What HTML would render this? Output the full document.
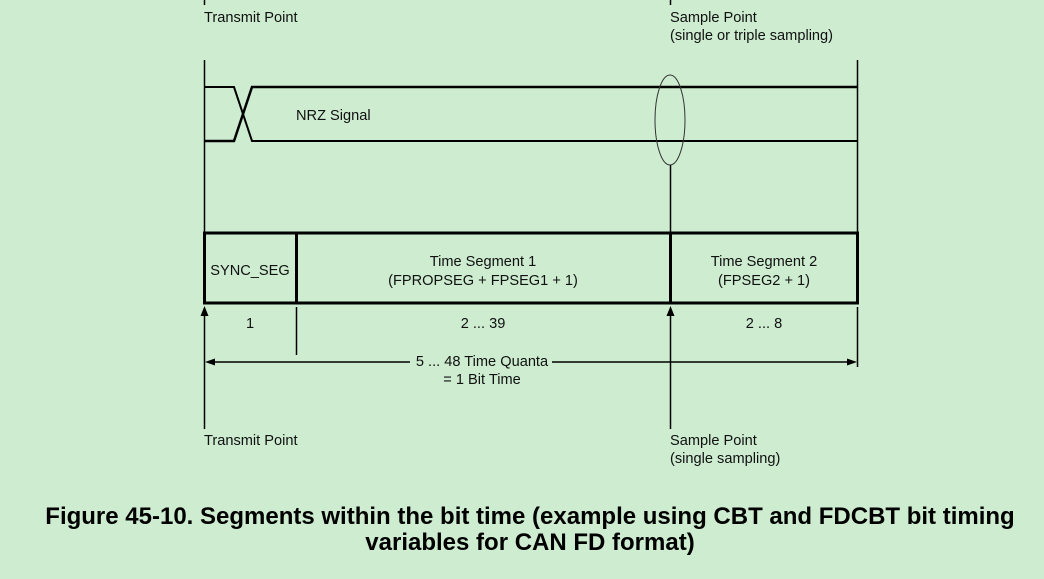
<!DOCTYPE html>
<html><head><meta charset="utf-8"><style>
html,body{margin:0;padding:0;background:#cdecd0;}
svg{display:block}
text{font-family:"Liberation Sans",sans-serif;font-size:14.6px;fill:#111}
.cap{font-weight:bold;font-size:24px;fill:#000}
</style></head><body>
<svg width="1044" height="579" viewBox="0 0 1044 579" xmlns="http://www.w3.org/2000/svg">
<rect width="1044" height="579" fill="#cdecd0"/>
<g stroke="#000" fill="none">
<line x1="204.5" y1="0" x2="204.5" y2="5" stroke-width="1.5"/>
<line x1="670.5" y1="0" x2="670.5" y2="5" stroke-width="1.5"/>
<line x1="204.5" y1="60" x2="204.5" y2="232" stroke-width="1.5"/>
<line x1="857.5" y1="60" x2="857.5" y2="232" stroke-width="1.5"/>
<polyline points="204,141 234,141 252,87 857,87" stroke-width="2.5"/>
<polyline points="204,87 234,87 252,141 857,141" stroke-width="2"/>
<ellipse cx="670" cy="120" rx="15" ry="45" stroke-width="1" stroke="#333"/>
<line x1="670.5" y1="165" x2="670.5" y2="232" stroke-width="1.5"/>
<rect x="204.5" y="233" width="653" height="70" stroke-width="3"/>
<line x1="296.5" y1="233" x2="296.5" y2="303" stroke-width="3"/>
<line x1="670.5" y1="233" x2="670.5" y2="303" stroke-width="3"/>
<line x1="204.5" y1="312" x2="204.5" y2="429" stroke-width="1.5"/>
<line x1="670.5" y1="312" x2="670.5" y2="429" stroke-width="1.5"/>
<line x1="296.5" y1="307" x2="296.5" y2="355" stroke-width="1.5"/>
<line x1="857.5" y1="307" x2="857.5" y2="367" stroke-width="1.5"/>
<line x1="212" y1="362" x2="410" y2="362" stroke-width="1.5"/>
<line x1="552" y1="362" x2="850" y2="362" stroke-width="1.5"/>
</g>
<g fill="#000">
<polygon points="204.5,306 200.5,316 208.5,316"/>
<polygon points="670.5,306 666.5,316 674.5,316"/>
<polygon points="205,362 215,358.5 215,365.5"/>
<polygon points="857,362 847,358.5 847,365.5"/>
</g>
<text x="204" y="22">Transmit Point</text>
<text x="670" y="22">Sample Point</text>
<text x="670" y="40">(single or triple sampling)</text>
<text x="296" y="120">NRZ Signal</text>
<text x="250" y="275" text-anchor="middle">SYNC_SEG</text>
<text x="483" y="266" text-anchor="middle">Time Segment 1</text>
<text x="483" y="285" text-anchor="middle">(FPROPSEG + FPSEG1 + 1)</text>
<text x="764" y="266" text-anchor="middle">Time Segment 2</text>
<text x="764" y="285" text-anchor="middle">(FPSEG2 + 1)</text>
<text x="250" y="328" text-anchor="middle">1</text>
<text x="483" y="328" text-anchor="middle">2 ... 39</text>
<text x="764" y="328" text-anchor="middle">2 ... 8</text>
<text x="482" y="366" text-anchor="middle">5 ... 48 Time Quanta</text>
<text x="482" y="384" text-anchor="middle">= 1 Bit Time</text>
<text x="204" y="445">Transmit Point</text>
<text x="670" y="445">Sample Point</text>
<text x="670" y="463">(single sampling)</text>
<text class="cap" x="530" y="524" text-anchor="middle">Figure 45-10. Segments within the bit time (example using CBT and FDCBT bit timing</text>
<text class="cap" x="530" y="550" text-anchor="middle">variables for CAN FD format)</text>
</svg>
</body></html>
